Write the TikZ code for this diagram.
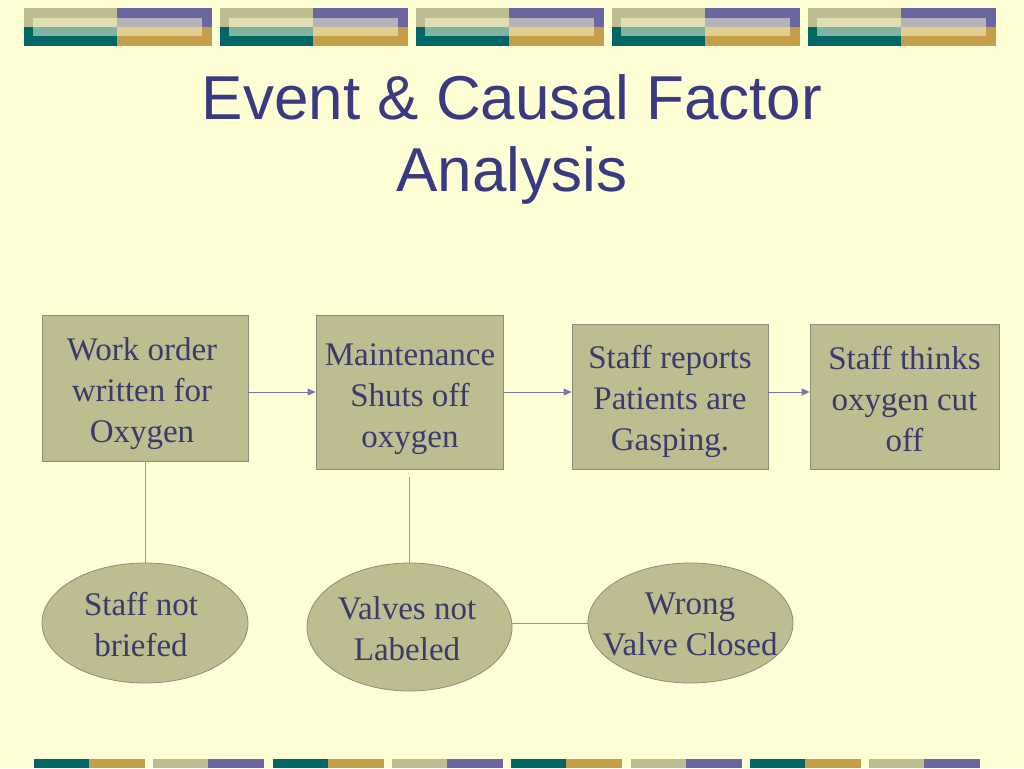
\documentclass[tikz,border=0pt]{standalone}
\usepackage{fontspec}
\setmainfont{Liberation Serif}
\newfontfamily\titlefont{Liberation Sans}
\usetikzlibrary{shapes.geometric,arrows.meta}
\definecolor{bgc}{RGB}{255,255,213}
\definecolor{khaki}{RGB}{189,189,143}
\definecolor{purp}{RGB}{107,102,160}
\definecolor{tealc}{RGB}{0,102,102}
\definecolor{goldc}{RGB}{196,158,72}
\definecolor{bordc}{RGB}{140,140,128}
\definecolor{textc}{RGB}{58,58,110}
\definecolor{titlec}{RGB}{58,58,128}
\definecolor{arrc}{RGB}{120,120,170}
\definecolor{connc}{RGB}{150,150,160}
\tikzset{
  box/.style={draw=bordc, line width=0.8pt, fill=khaki, rectangle, inner sep=0pt},
  oval/.style={draw=bordc, line width=0.8pt, fill=khaki, ellipse, inner sep=0pt},
  txt/.style={text=textc, align=center, inner sep=0pt, anchor=base, font=\fontsize{33}{41}\selectfont},
  arr/.style={draw=arrc, line width=0.9pt, -{Triangle[length=8pt,width=7pt]}},
  conn/.style={draw=connc, line width=0.9pt}
}
\begin{document}
\begin{tikzpicture}[x=1pt,y=-1pt]
\useasboundingbox (0,0) rectangle (1024,768);
\fill[bgc] (0,0) rectangle (1024,768);
% top decoration
\foreach \i in {0,...,4}{
  \pgfmathsetmacro{\xo}{24+196*\i}
  \fill[khaki] (\xo,8) rectangle (\xo+93,27);
  \fill[purp] (\xo+93,8) rectangle (\xo+188,27);
  \fill[tealc] (\xo,27) rectangle (\xo+93,46);
  \fill[goldc] (\xo+93,27) rectangle (\xo+188,46);
  \fill[bgc, opacity=0.5] (\xo+9,18) rectangle (\xo+178,36);
}
% bottom decoration
\foreach \i in {0,...,7}{
  \pgfmathsetmacro{\xo}{34+119.3*\i}
  \pgfmathparse{mod(\i,2)==0 ? 1 : 0}
  \ifnum\pgfmathresult=1
    \fill[tealc] (\xo,759) rectangle (\xo+55,768);
    \fill[goldc] (\xo+55,759) rectangle (\xo+111,768);
  \else
    \fill[khaki] (\xo,759) rectangle (\xo+55,768);
    \fill[purp] (\xo+55,759) rectangle (\xo+111,768);
  \fi
}
% title (anchor=base is the last line's baseline)
\node[text=titlec, align=center, inner sep=0pt, anchor=base, font=\titlefont\fontsize{62}{72}\selectfont] (title) at (512,191) {Event \& Causal Factor\\Analysis};
% boxes
\node[box, minimum width=206pt, minimum height=146pt] (box1) at (145,388) {};
\node[box, minimum width=187pt, minimum height=154pt] (box2) at (409.5,392) {};
\node[box, minimum width=196pt, minimum height=145pt] (box3) at (670,396.5) {};
\node[box, minimum width=189pt, minimum height=145pt] (box4) at (904.5,396.5) {};
\node[txt] (t1) at (142,442) {Work order\\written for\\Oxygen};
\node[txt] (t2) at (410,447) {Maintenance\\Shuts off\\oxygen};
\node[txt] (t3) at (670,450) {Staff reports\\Patients are\\Gasping.};
\node[txt] (t4) at (904.5,451) {Staff thinks\\oxygen cut\\off};
% ellipses
\node[oval, minimum width=206pt, minimum height=120pt] (e1) at (145,623) {};
\node[oval, minimum width=205pt, minimum height=128pt] (e2) at (409.5,627) {};
\node[oval, minimum width=205pt, minimum height=120pt] (e3) at (690.5,623) {};
\node[txt] (t5) at (141,656) {Staff not\\briefed};
\node[txt] (t6) at (407,660) {Valves not\\Labeled};
\node[txt] (t7) at (690,655) {Wrong\\Valve Closed};
% connectors
\draw[arr] (box1.east |- box2.west) -- (box2.west);
\draw[arr] (box2.east) -- (box2.east -| box3.west);
\draw[arr] (box3.east |- box2.east) -- (box4.west |- box2.east);
\draw[conn] (box1.south) -- (e1.north);
\draw[conn, shorten <=8pt] (box2.south) -- (e2.north);
\draw[conn] (e2.east |- e3.west) -- (e3.west);
\end{tikzpicture}
\end{document}
